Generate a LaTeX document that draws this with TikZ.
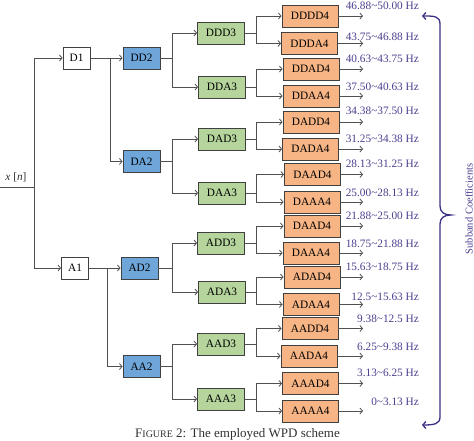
\documentclass[tikz,border=0pt]{standalone}
\usepackage{fontspec}
\setmainfont{Liberation Serif}
\usetikzlibrary{arrows.meta}
\definecolor{lnc}{HTML}{505050}
\definecolor{boxb}{HTML}{404040}
\definecolor{blue1}{HTML}{6FA6DA}
\definecolor{green1}{HTML}{B5D59C}
\definecolor{orange1}{HTML}{F7B585}
\definecolor{freqc}{HTML}{4A3F8E}
\definecolor{bracec}{HTML}{3B3185}
\definecolor{capc}{HTML}{303030}
\begin{document}
\begin{tikzpicture}[x=1pt,y=-1pt,
 box/.style={draw=boxb, line width=0.9pt, minimum height=22pt, inner sep=0pt, font=\fontsize{11.3}{13}\selectfont},
 wbox/.style={box, fill=white, minimum width=27pt},
 bbox/.style={box, fill=blue1, minimum width=37pt},
 gbox/.style={box, fill=green1, minimum width=47pt},
 obox/.style={box, fill=orange1, minimum width=56pt},
 conn/.style={draw=lnc, line width=0.8pt},
 arr/.style={conn, -{Straight Barb[length=2.6pt,width=6pt]}},
 freq/.style={anchor=east, text=freqc, font=\fontsize{11.3}{13}\selectfont, inner sep=0pt},
]
\useasboundingbox (0,0) rectangle (474,441);
% level 1
\node[wbox] (D1) at (76.5,58) {D1};
\node[wbox] (A1) at (75,268) {A1};
% level 2
\node[bbox] (DD2) at (141.5,58) {DD2};
\node[bbox] (DA2) at (141.5,161.5) {DA2};
\node[bbox] (AD2) at (139.5,268) {AD2};
\node[bbox] (AA2) at (141.5,366.5) {AA2};
% level 3
\node[gbox] (DDD3) at (221,33) {DDD3};
\node[gbox] (DDA3) at (222,87) {DDA3};
\node[gbox] (DAD3) at (222,139) {DAD3};
\node[gbox] (DAA3) at (222,193) {DAA3};
\node[gbox] (ADD3) at (221,243) {ADD3};
\node[gbox] (ADA3) at (222,292) {ADA3};
\node[gbox] (AAD3) at (221,344) {AAD3};
\node[gbox] (AAA3) at (221,399) {AAA3};
% level 4
\node[obox] (o1) at (310,16) {DDDD4};
\node[obox] (o2) at (309.5,43.5) {DDDA4};
\node[obox] (o3) at (311,69) {DDAD4};
\node[obox] (o4) at (311,96) {DDAA4};
\node[obox] (o5) at (311,122) {DADD4};
\node[obox] (o6) at (310.5,149) {DADA4};
\node[obox] (o7) at (312.5,174.5) {DAAD4};
\node[obox] (o8) at (312,202) {DAAA4};
\node[obox] (o9) at (312,226) {DAAD4};
\node[obox] (o10) at (311,253) {DAAA4};
\node[obox] (o11) at (312,277) {ADAD4};
\node[obox] (o12) at (311,304.5) {ADAA4};
\node[obox] (o13) at (310,328.5) {AADD4};
\node[obox] (o14) at (309,356) {AADA4};
\node[obox] (o15) at (310.5,383.5) {AAAD4};
\node[obox] (o16) at (310.5,411) {AAAA4};
% input
\coordinate (in) at (0,187);
\coordinate (s0) at (34,187);
\node[text=capc, font=\fontsize{11.3}{13}\selectfont, inner sep=0pt] (xn) at (16,177) {\textit{x} [\textit{n}]};
\draw[conn] (in) -- (s0);
\draw[arr] (s0) |- (D1.west);
\draw[arr] (s0) |- (A1.west);
% level 1 -> 2
\coordinate (sD1) at (110,58);
\coordinate (sA1) at (107,268);
\draw[conn] (D1.east) -- (sD1);
\draw[arr] (sD1) -- (DD2.west);
\draw[arr] (sD1) |- (DA2.west);
\draw[conn] (A1.east) -- (sA1);
\draw[arr] (sA1) -- (AD2.west);
\draw[arr] (sA1) |- (AA2.west);
% level 2 -> 3
\foreach \p/\a/\b in {DD2/DDD3/DDA3, DA2/DAD3/DAA3, AD2/ADD3/ADA3, AA2/AAD3/AAA3}{
  \coordinate (s\p) at (172,0 |- \p.east);
  \draw[conn] (\p.east) -- (s\p);
  \draw[arr] (s\p) |- (\a.west);
  \draw[arr] (s\p) |- (\b.west);
}
% level 3 -> 4
\foreach \p/\a/\b in {DDD3/o1/o2, DDA3/o3/o4, DAD3/o5/o6, DAA3/o7/o8, ADD3/o9/o10, ADA3/o11/o12, AAD3/o13/o14, AAA3/o15/o16}{
  \coordinate (s\p) at (256,0 |- \p.east);
  \draw[conn] (\p.east) -- (s\p);
  \draw[arr] (s\p) |- (\a.west);
  \draw[arr] (s\p) |- (\b.west);
}
% outputs
\foreach \i in {1,...,16}{
  \coordinate (e\i) at (363,0 |- o\i.east);
  \draw[arr] (o\i.east) -- (e\i);
}
\node[freq] (f1) at (419,5.5) {46.88\textasciitilde 50.00 Hz};
\node[freq] (f2) at (419,37) {43.75\textasciitilde 46.88 Hz};
\node[freq] (f3) at (419,59) {40.63\textasciitilde 43.75 Hz};
\node[freq] (f4) at (419,87) {37.50\textasciitilde 40.63 Hz};
\node[freq] (f5) at (419,111) {34.38\textasciitilde 37.50 Hz};
\node[freq] (f6) at (419,139) {31.25\textasciitilde 34.38 Hz};
\node[freq] (f7) at (419,164) {28.13\textasciitilde 31.25 Hz};
\node[freq] (f8) at (419,193) {25.00\textasciitilde 28.13 Hz};
\node[freq] (f9) at (419,216) {21.88\textasciitilde 25.00 Hz};
\node[freq] (f10) at (419,244) {18.75\textasciitilde 21.88 Hz};
\node[freq] (f11) at (419,267) {15.63\textasciitilde 18.75 Hz};
\node[freq] (f12) at (419,297) {12.5\textasciitilde 15.63 Hz};
\node[freq] (f13) at (419,319) {9.38\textasciitilde 12.5 Hz};
\node[freq] (f14) at (419,347) {6.25\textasciitilde 9.38 Hz};
\node[freq] (f15) at (419,373) {3.13\textasciitilde 6.25 Hz};
\node[freq] (f16) at (419,402) {0\textasciitilde 3.13 Hz};
% brace
\coordinate (bt) at (422,16);
\coordinate (bm) at (451,215);
\coordinate (bb) at (422,425);
\draw[bracec, line width=1.3pt, {Straight Barb[length=3pt,width=7pt]}-{Straight Barb[length=3pt,width=7pt]}]
  (bt) .. controls (434,16) and (440,16) .. (440,24) -- (440,206)
  .. controls (440,212) and (444,215) .. (bm)
  .. controls (444,215) and (440,218) .. (440,224) -- (440,417)
  .. controls (440,424) and (434,425) .. (bb);
\node[rotate=90, text=freqc, font=\fontsize{10.5}{12}\selectfont, inner sep=0pt] (sc) at (469,209) {Subband Coefficients};
% caption
\node[anchor=base, text=capc, font=\fontsize{13}{15}\selectfont, inner sep=0pt] (cap) at (237.5,437.5) {F{\fontsize{10}{12}\selectfont IGURE} 2: The employed WPD scheme};
\end{tikzpicture}
\end{document}
